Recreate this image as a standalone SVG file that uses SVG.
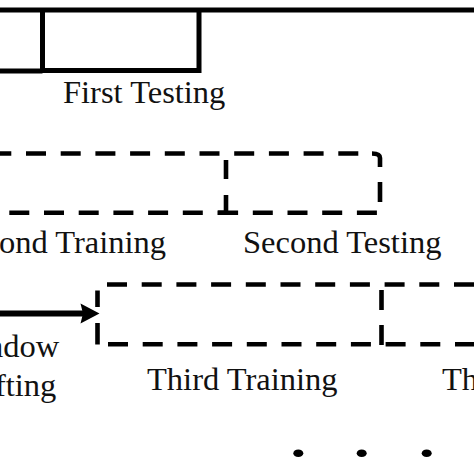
<svg xmlns="http://www.w3.org/2000/svg" width="474" height="474" viewBox="0 0 474 474">
<defs>
<style>
.solid{fill:none;stroke:#000;stroke-width:5}
.dash{fill:none;stroke:#000;stroke-width:4.6;stroke-dasharray:20 14.7}
.vd{fill:none;stroke:#000;stroke-width:4.6}
.lbl{font-family:"Liberation Serif","Times New Roman",serif;font-size:32.5px;fill:#111}
</style>
</defs>
<rect width="474" height="474" fill="#fff"/>
<g id="first-training">
<path class="solid" d="M-5 71H42.5"/>
</g>
<g id="timeline-top">
<path class="solid" d="M-5 10H480" stroke-width="5.5"/>
</g>
<g id="first-testing">
<path class="solid" d="M42.5 10V70.5H199V10"/>
<text class="lbl" x="63" y="103">First Testing</text>
</g>
<g id="second-training">
<path class="dash" d="M-43.4 153.5H226"/>
<path class="dash" d="M-25.4 212.7H226"/>
<path class="vd" d="M226 160V179M226 195V213"/>
<text class="lbl" x="-48" y="253">Second Training</text>
</g>
<g id="second-testing">
<path class="dash" d="M234.2 153.5H360"/>
<path class="dash" d="M218.1 212.7H378"/>
<path class="vd" d="M372 153.5Q380 153.5 380 158V167M380 182V202"/>
<text class="lbl" x="243" y="253">Second Testing</text>
</g>
<g id="third-training">
<path class="dash" d="M107 284.5H380"/>
<path class="dash" d="M108 344.2H380"/>
<path class="vd" d="M97.5 290.5V307M97.5 323V344.5"/>
<text class="lbl" x="147" y="390">Third Training</text>
</g>
<g id="third-testing">
<path class="dash" d="M384.6 284.5H490"/>
<path class="dash" d="M385.6 344.2H490"/>
<path class="vd" d="M381.5 290V310M381.5 325V345"/>
<text class="lbl" x="442" y="390">Third Testing</text>
</g>
<g id="window-shifting">
<text class="lbl" x="4" y="357" text-anchor="middle">Window</text>
<text class="lbl" x="4" y="396" text-anchor="middle">Shifting</text>
</g>
<g id="connectors">
<path d="M-5 313.5H84" stroke="#000" stroke-width="6" fill="none"/>
<path d="M80.5 303.5L99.5 313.5L80.5 323.5L83 313.5Z" fill="#000"/>
</g>
<g id="ellipsis" fill="#000">
<ellipse cx="298.3" cy="453.3" rx="5" ry="3.8"/>
<ellipse cx="361.7" cy="453.3" rx="5" ry="3.8"/>
<ellipse cx="426.7" cy="453.3" rx="5" ry="3.8"/>
</g>
</svg>
